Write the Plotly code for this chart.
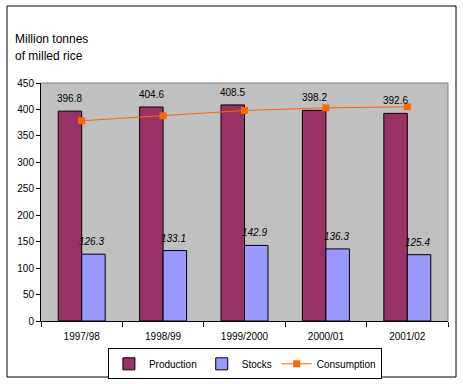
import plotly.graph_objects as go

years = ["1997/98", "1998/99", "1999/2000", "2000/01", "2001/02"]
production = [396.8, 404.6, 408.5, 398.2, 392.6]
stocks = [126.3, 133.1, 142.9, 136.3, 125.4]
consumption = [378.6, 388.0, 398.0, 403.0, 405.0]
y_ticks = [0, 50, 100, 150, 200, 250, 300, 350, 400, 450]

FONT = "Liberation Sans, Arial, sans-serif"

fig = go.Figure()
fig.add_trace(go.Bar(
    x=years, y=production, name="Production",
    marker=dict(color="#993366", line=dict(color="black", width=1)),
))
fig.add_trace(go.Bar(
    x=years, y=stocks, name="Stocks",
    marker=dict(color="#9999FF", line=dict(color="black", width=1)),
))
fig.add_trace(go.Scatter(
    x=years, y=consumption, name="Consumption", mode="lines+markers",
    line=dict(color="#FF6600", width=1),
    marker=dict(symbol="square", size=7, color="#FF6600"),
))

annotations = []
for i, v in enumerate(production):
    annotations.append(dict(x=i - 0.145, y=v, xref="x", yref="y", text=f"{v:.1f}",
                            showarrow=False, yanchor="bottom", yshift=5,
                            font=dict(family=FONT, size=10, color="black")))
for i, v in enumerate(stocks):
    annotations.append(dict(x=i + 0.125, y=v, xref="x", yref="y", text=f"<i>{v:.1f}</i>",
                            showarrow=False, yanchor="bottom", yshift=5,
                            font=dict(family=FONT, size=10, color="black")))
annotations.append(dict(x=-0.0688, y=1.1849, xref="paper", yref="paper", text="Million tonnes",
                        showarrow=False, xanchor="left", yanchor="middle",
                        font=dict(family=FONT, size=12, color="black")))
annotations.append(dict(x=-0.0688, y=1.1134, xref="paper", yref="paper", text="of milled rice",
                        showarrow=False, xanchor="left", yanchor="middle",
                        font=dict(family=FONT, size=12, color="black")))

shapes = [
    dict(type="rect", xref="paper", yref="paper", x0=-0.0835, x1=1.0197, y0=-0.2353, y1=1.3235,
         line=dict(color="black", width=1), layer="below"),
    dict(type="line", xref="paper", yref="paper", x0=0, x1=1, y0=1, y1=1,
         line=dict(color="#808080", width=1)),
    dict(type="line", xref="paper", yref="paper", x0=1, x1=1, y0=0, y1=1,
         line=dict(color="#808080", width=1)),
]

fig.update_layout(
    width=463, height=384,
    margin=dict(l=41, r=15, t=83, b=63, autoexpand=False),
    paper_bgcolor="white", plot_bgcolor="#C0C0C0",
    barmode="group", bargap=0.423, bargroupgap=0,
    font=dict(family=FONT, size=10, color="black"),
    showlegend=True,
    legend=dict(orientation="h", x=0.501, xanchor="center", y=-0.18, yanchor="middle",
                bordercolor="black", borderwidth=1, bgcolor="white",
                font=dict(family=FONT, size=10, color="black"),
                itemwidth=30, traceorder="normal", tracegroupgap=0),
    annotations=annotations,
    shapes=shapes,
    xaxis=dict(showline=True, linecolor="black", linewidth=1, ticks="outside",
               tickson="boundaries", ticklen=5, tickcolor="black", showgrid=False,
               automargin=False, ticklabelstandoff=6, tickfont=dict(family=FONT, size=10)),
    yaxis=dict(range=[0, 450], tickvals=y_ticks, showline=True, linecolor="black",
               linewidth=1, ticks="outside", ticklen=4, tickcolor="black",
               showgrid=False, zeroline=False, automargin=False,
               tickfont=dict(family=FONT, size=10)),
)

fig.write_html("out.html", config={"displayModeBar": False},
               post_script="document.body.style.margin='0';document.body.style.overflow='hidden';")
